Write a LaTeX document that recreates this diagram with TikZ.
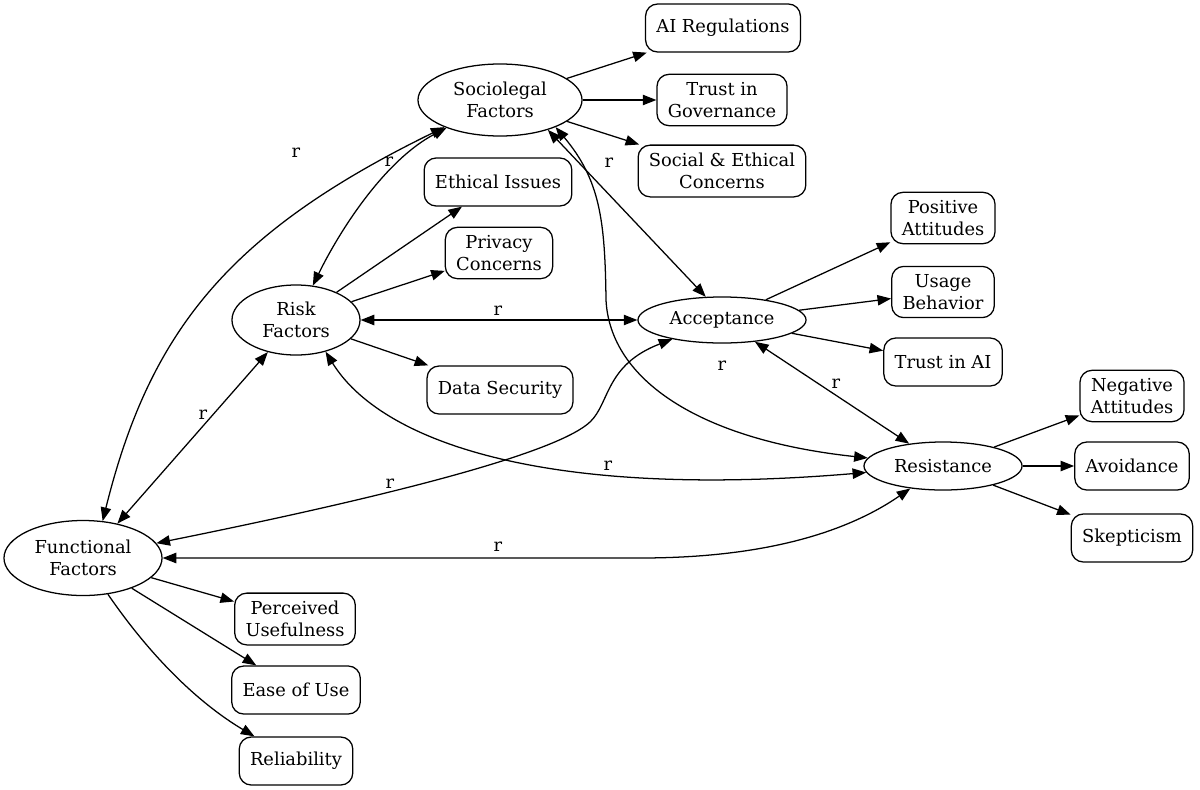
\documentclass[tikz,border=0pt]{standalone}
\usepackage{fontspec}
\setmainfont{DejaVu Serif}
\usetikzlibrary{shapes.geometric,arrows.meta}

\tikzset{
    factor/.style={ellipse, draw, align=center, inner sep=0pt},
    item/.style={draw, rounded corners=0.3cm, align=center,
        inner xsep=0.27cm, inner ysep=0.2cm, minimum height=1.2cm},
    lead/.style={-{Triangle[length=0.34cm, width=0.26cm]}},
    rel/.style={{Triangle[length=0.34cm, width=0.26cm]}-{Triangle[length=0.34cm, width=0.26cm]}},
    lbl/.style={inner sep=0pt},
}

\begin{document}
\begin{tikzpicture}[x=0.025cm, y=-0.025cm, line width=0.9pt,
        font=\fontsize{12.7}{15.6}\selectfont]
    \useasboundingbox (0,0) rectangle (1200,789);

    % factors
    \node[factor, minimum width=4.1cm, minimum height=1.8cm] (soc) at (500,100) {Sociolegal\\Factors};
    \node[factor, minimum width=3.2cm, minimum height=1.75cm] (risk) at (296,320) {Risk\\Factors};
    \node[factor, minimum width=4.2cm, minimum height=1.15cm] (acc) at (722,320) {Acceptance};
    \node[factor, minimum width=3.95cm, minimum height=1.2cm] (res) at (943,466) {Resistance};
    \node[factor, minimum width=3.95cm, minimum height=1.875cm] (func) at (83,558) {Functional\\Factors};

    % items
    \node[item] (aireg) at (723,28) {AI Regulations};
    \node[item] (trustgov) at (722,100) {Trust in\\Governance};
    \node[item] (soceth) at (722,171) {Social \& Ethical\\Concerns};
    \node[item] (ethic) at (498,182) {Ethical Issues};
    \node[item] (privacy) at (499,253) {Privacy\\Concerns};
    \node[item] (datasec) at (500,390) {Data Security};
    \node[item] (posatt) at (943,218) {Positive\\Attitudes};
    \node[item] (usage) at (943,292) {Usage\\Behavior};
    \node[item] (trustai) at (943,362) {Trust in AI};
    \node[item] (negatt) at (1132,396) {Negative\\Attitudes};
    \node[item] (avoid) at (1132,466) {Avoidance};
    \node[item] (skept) at (1132,538) {Skepticism};
    \node[item] (useful) at (295,619) {Perceived\\Usefulness};
    \node[item] (ease) at (296,690) {Ease of Use};
    \node[item] (relia) at (296,761) {Reliability};

    \foreach \a/\b in {soc/aireg, soc/trustgov, soc/soceth,
        risk/ethic, risk/privacy, risk/datasec,
        acc/posatt, acc/usage, acc/trustai,
        res/negatt, res/avoid, res/skept,
        func/useful, func/ease}
    \draw[lead] (\a) -- (\b);
    \draw[lead] (func) .. controls (160,670) and (210,710) .. (relia);

    % relations
    \draw[rel] (func.62) .. controls (150,330) and (230,232) .. (soc);
    \draw[rel] (risk) .. controls (340,230) and (385,160) .. (soc);
    \draw[rel] (soc.-32) -- (acc.125);
    \draw[rel] (soc.-26) .. controls (600,180) and (605,220) .. (606,300)
        .. controls (610,380) and (700,440) .. (res);
    \draw[rel] (risk) -- (acc);
    \draw[rel] (risk.-47) .. controls (380,440) and (540,500) .. (res);
    \draw[rel] (func.45) -- (risk);
    \draw[rel] (func) .. controls (420,490) and (560,450) .. (590,422)
        .. controls (610,403) and (605,365) .. (acc);
    \draw[rel] (func) -- (640,558) .. controls (770,558) and (850,530) .. (res);
    \draw[rel] (acc) -- (res);

    \foreach \x/\y [count=\i] in {296/153, 389/162, 609/163, 498/311, 722/366,
        836/384, 203/415, 608/466, 390/484, 498/547}
    \node[lbl] (r\i) at (\x,\y) {r};
\end{tikzpicture}
\end{document}
